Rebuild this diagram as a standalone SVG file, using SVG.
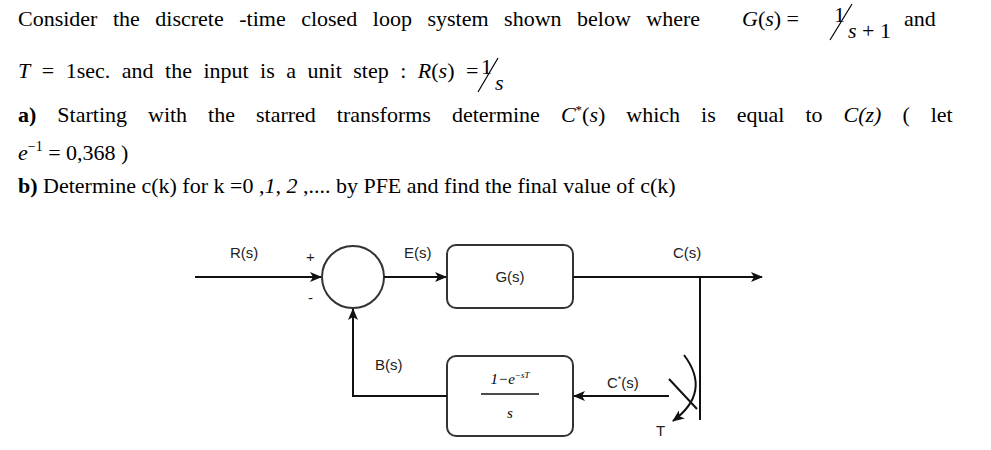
<svg xmlns="http://www.w3.org/2000/svg" width="991" height="450" viewBox="0 0 991 450">
<style>
.t{font-family:"Liberation Serif",serif;font-size:22px;fill:#000}
.i{font-style:italic}
.b{font-weight:bold}
.d{font-family:"Liberation Sans",sans-serif;font-size:15px;fill:#222}
.ln{stroke:#111;stroke-width:2;fill:none}
.bx{stroke:#333;stroke-width:2;fill:#fff}
</style>
<defs><marker id="a" markerWidth="12" markerHeight="10" refX="11" refY="5" orient="auto" markerUnits="userSpaceOnUse"><path d="M0,0 L12,5 L0,10 L3,5 Z" fill="#111"/></marker></defs>
<rect width="991" height="450" fill="#fff"/>
<g id="text">
<text class="t" x="18" y="26" word-spacing="10">Consider the discrete -time closed loop system shown below where</text>
<text class="t" x="742" y="26"><tspan class="i">G</tspan>(<tspan class="i">s</tspan>) = </text>
<text class="t" x="834" y="22" font-size="20">1</text>
<line x1="830" y1="40" x2="852" y2="4" stroke="#000" stroke-width="1.2"/>
<text class="t" x="848" y="38"><tspan class="i">s</tspan> + 1</text>
<text class="t" x="904" y="26">and</text>
<text class="t" x="18" y="78" word-spacing="6"><tspan class="i">T</tspan> = 1sec. and the input is a unit step : <tspan class="i">R</tspan>(<tspan class="i">s</tspan>) = </text>
<text class="t" x="481" y="74" font-size="20">1</text>
<line x1="478" y1="92" x2="498" y2="58" stroke="#000" stroke-width="1.2"/>
<text class="t i" x="495" y="90">s</text>
<text class="t" x="18" y="122" word-spacing="15.5"><tspan class="b">a)</tspan> Starting with the starred transforms determine <tspan class="i">C</tspan><tspan dy="-8" font-size="13">*</tspan><tspan dy="8">(</tspan><tspan class="i">s</tspan>) which is equal to <tspan class="i">C(z)</tspan> ( let</text>
<text class="t" x="18" y="160"><tspan class="i">e</tspan><tspan dy="-9" font-size="14">−1</tspan><tspan dy="9"> = 0,368 )</tspan></text>
<text class="t" x="18" y="193"><tspan class="b">b)</tspan> Determine c(k) for k =0 ,<tspan class="i">1, 2</tspan> ,.... by PFE and find the final value of c(k)</text>
</g>
<g id="sum"><circle cx="353" cy="277" r="31" class="bx"/>
<text class="d" x="306" y="262" font-size="12">+</text><text class="d" x="308" y="303" font-size="13">-</text></g>
<g id="G"><rect x="447" y="245" width="126" height="63" rx="9" class="bx"/><text class="d" x="510" y="282" text-anchor="middle">G(s)</text></g>
<g id="H"><rect x="447" y="356" width="126" height="80" rx="9" class="bx"/>
<text x="510" y="384" text-anchor="middle" font-family="Liberation Serif,serif" font-size="15" font-style="italic">1−e<tspan dy="-6" font-size="9">−sT</tspan></text>
<line x1="481" y1="394" x2="539" y2="394" stroke="#111" stroke-width="1.3"/>
<text x="510" y="418" text-anchor="middle" font-family="Liberation Serif,serif" font-size="15" font-style="italic">s</text></g>
<g id="connectors">
<line x1="195" y1="277" x2="321" y2="277" class="ln" marker-end="url(#a)"/>
<line x1="384" y1="277" x2="446" y2="277" class="ln" marker-end="url(#a)"/>
<line x1="573" y1="277" x2="762" y2="277" class="ln" marker-end="url(#a)"/>
<polyline points="700,277 700,420" class="ln"/>
<line x1="669" y1="396" x2="574" y2="396" class="ln" marker-end="url(#a)"/>
<polyline points="447,396 353,396 353,309" class="ln" marker-end="url(#a)"/>
<line x1="669" y1="379" x2="697" y2="409" class="ln"/>
<path d="M684,355 Q712,392 673,421" class="ln" marker-end="url(#a)"/>
</g>
<g id="labels" class="d">
<text x="230" y="258">R(s)</text><text x="404" y="258">E(s)</text><text x="673" y="258">C(s)</text>
<text x="375" y="370">B(s)</text><text x="607" y="388">C<tspan dy="-6" font-size="9">*</tspan><tspan dy="6">(s)</tspan></text>
<text x="656" y="436">T</text>
</g>
</svg>
